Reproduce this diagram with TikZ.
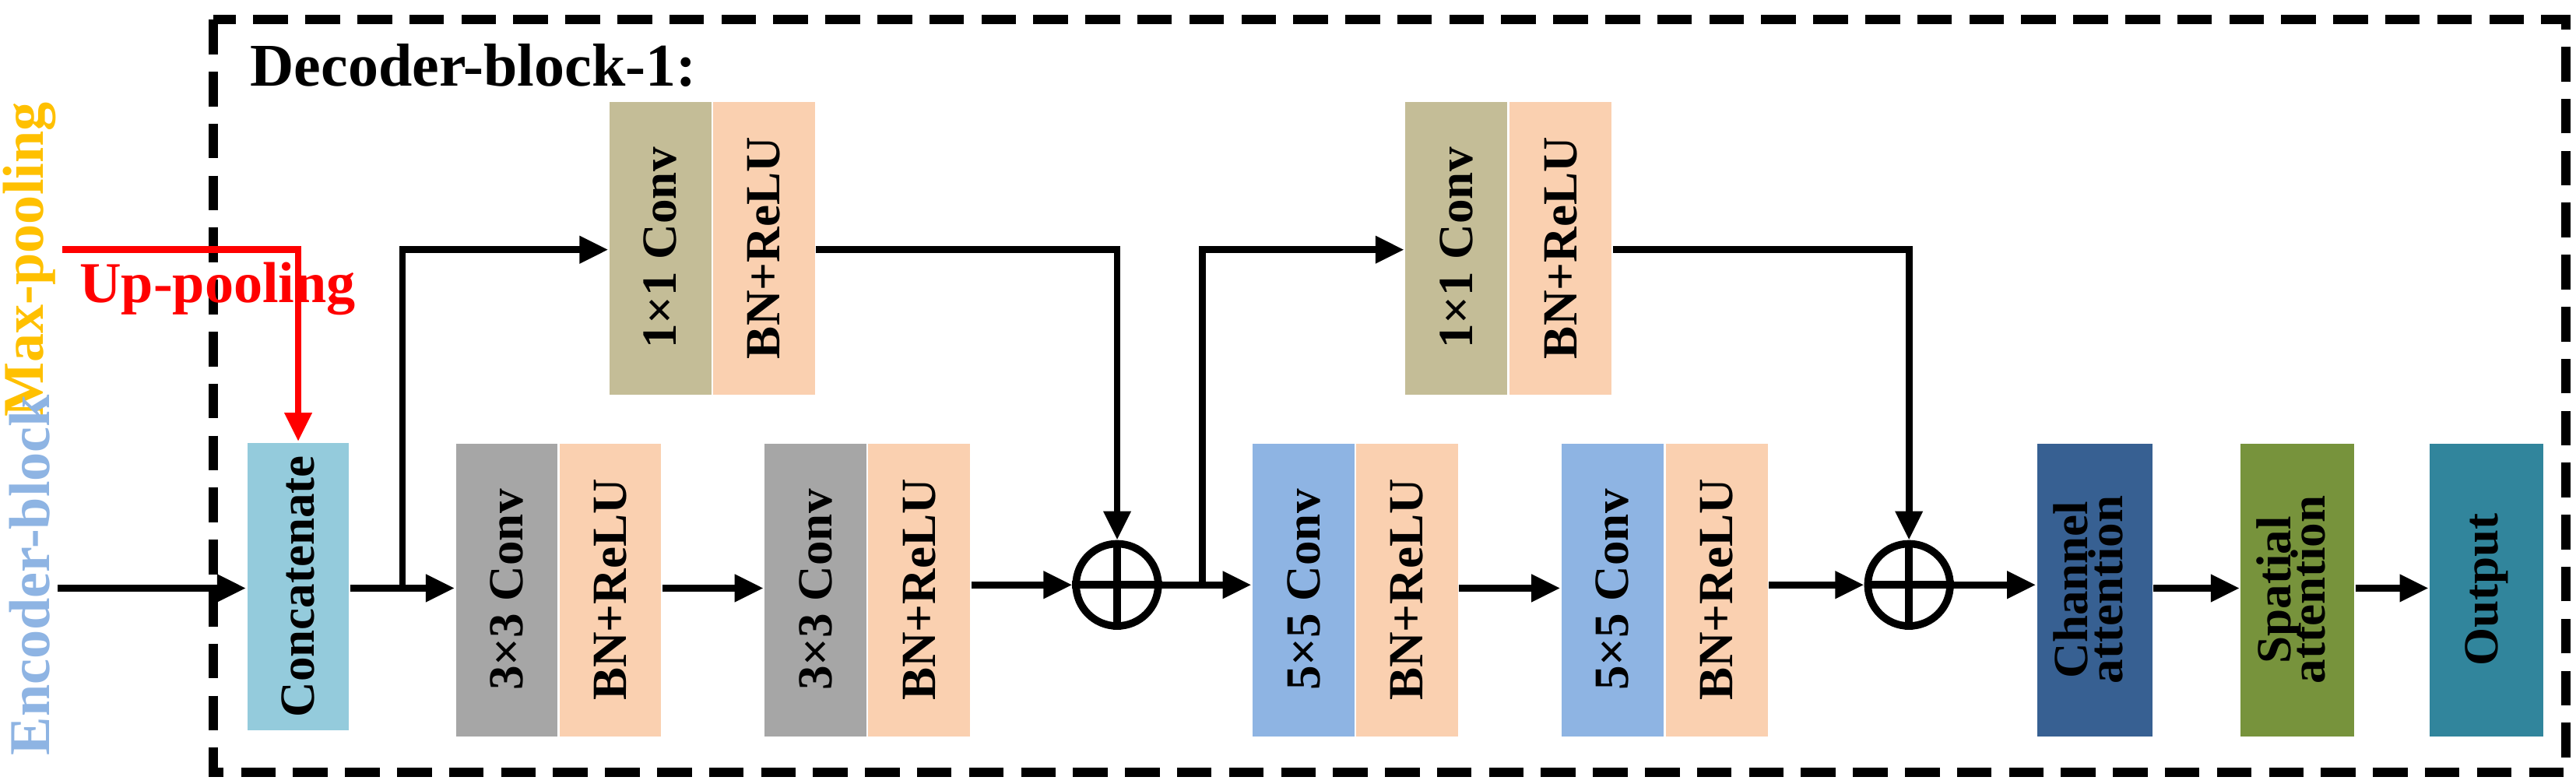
\documentclass[tikz,border=0pt]{standalone}
\usepackage{fontspec}
\setmainfont{Liberation Serif}
\usetikzlibrary{arrows.meta}
\definecolor{cconc}{HTML}{94CBDC}
\definecolor{cone}{HTML}{C4BD97}
\definecolor{cbn}{HTML}{FAD0B0}
\definecolor{cthree}{HTML}{A6A6A6}
\definecolor{cfive}{HTML}{8EB4E3}
\definecolor{cchan}{HTML}{376092}
\definecolor{cspat}{HTML}{77933C}
\definecolor{cout}{HTML}{31859C}
\definecolor{cmax}{HTML}{FFC000}
\definecolor{cenc}{HTML}{8EB4E3}
\begin{document}
\begin{tikzpicture}[x=0.01cm,y=-0.01cm,
  blk/.style={minimum width=0.62cm,minimum height=1.78cm,inner sep=0pt,font=\bfseries\fontsize{8.5}{9}\selectfont,align=center},
  lbl/.style={rotate=90},
  arr/.style={-{Triangle[length=5pt,width=4.5pt]},line width=1.2pt},
  ln/.style={line width=1.2pt},
  sumc/.style={circle,draw,line width=1.3pt,minimum size=0.5cm,inner sep=0pt}]
\useasboundingbox (0,0) rectangle (1568,477);
\draw[dashed,line width=1.6pt,dash pattern=on 6pt off 3pt] (130,12) rectangle (1562,470);
\node[anchor=west,font=\bfseries\fontsize{10.5}{11}\selectfont] (title) at (140,40) {Decoder-block-1:};
\node[rotate=90,text=cmax,font=\bfseries\fontsize{10}{11}\selectfont] (maxp) at (18,158) {Max-pooling};
\node[rotate=90,text=cenc,font=\bfseries\fontsize{10}{11}\selectfont] (encb) at (18,350) {Encoder-block};
% boxes
\node[blk,fill=cconc,minimum height=1.75cm] (conc) at (181.5,357) {\rotatebox{90}{Concatenate}};
\node[blk,fill=cone] (c1a) at (402,151) {\rotatebox{90}{1\texttimes1 Conv}};
\node[blk,fill=cbn] (b1a) at (465,151) {\rotatebox{90}{BN+ReLU}};
\node[blk,fill=cthree] (c3a) at (308.5,359) {\rotatebox{90}{3\texttimes3 Conv}};
\node[blk,fill=cbn] (b3a) at (371.5,359) {\rotatebox{90}{BN+ReLU}};
\node[blk,fill=cthree] (c3b) at (496.5,359) {\rotatebox{90}{3\texttimes3 Conv}};
\node[blk,fill=cbn] (b3b) at (559.5,359) {\rotatebox{90}{BN+ReLU}};
\node[sumc] (s1) at (680,356) {};
\draw[line width=1.3pt] (s1.north)--(s1.south) (s1.west)--(s1.east);
\node[blk,fill=cone] (c1b) at (886.5,151) {\rotatebox{90}{1\texttimes1 Conv}};
\node[blk,fill=cbn] (b1b) at (950,151) {\rotatebox{90}{BN+ReLU}};
\node[blk,fill=cfive] (c5a) at (793.5,359) {\rotatebox{90}{5\texttimes5 Conv}};
\node[blk,fill=cbn] (b5a) at (856.5,359) {\rotatebox{90}{BN+ReLU}};
\node[blk,fill=cfive] (c5b) at (981.5,359) {\rotatebox{90}{5\texttimes5 Conv}};
\node[blk,fill=cbn] (b5b) at (1045,359) {\rotatebox{90}{BN+ReLU}};
\node[sumc] (s2) at (1162,356) {};
\draw[line width=1.3pt] (s2.north)--(s2.south) (s2.west)--(s2.east);
\node[blk,fill=cchan,minimum width=0.70cm] (chan) at (1275,359) {\rotatebox{90}{\begin{tabular}{@{}c@{}}Channel\\[-3pt]attention\end{tabular}}};
\node[blk,fill=cspat,minimum width=0.69cm] (spat) at (1398.5,359) {\rotatebox{90}{\begin{tabular}{@{}c@{}}Spatial\\[-3pt]attention\end{tabular}}};
\node[blk,fill=cout,minimum width=0.69cm] (outb) at (1513.5,359) {\rotatebox{90}{Output}};
% input
\coordinate (in) at (35,358);
\draw[arr] (in) -- (conc.west |- in);
\coordinate (up0) at (38,152);
\draw[arr,red] (up0) -- (conc.north |- up0) -- (conc.north);
\node[anchor=west,text=red,font=\bfseries\fontsize{10}{11}\selectfont] (uptxt) at (36,176) {Up-pooling};
% main path
\coordinate (br1) at (245,358);
\draw[arr] (conc.east |- br1) -- (c3a.west |- br1);
\draw[arr] (br1) -- (245,152) -- (c1a.west |- 0,152);
\draw[arr] (b1a.east |- 0,152) -- (680,152) -- (s1.north);
\draw[arr] (b3a.east |- 0,358) -- (c3b.west |- 0,358);
\draw[arr] (b3b.east |- 0,356) -- (s1.west);
\coordinate (br2) at (732,356);
\draw[arr] (s1.east) -- (c5a.west |- br2);
\draw[arr] (br2) -- (732,152) -- (c1b.west |- 0,152);
\draw[arr] (b1b.east |- 0,152) -- (1162,152) -- (s2.north);
\draw[arr] (b5a.east |- 0,358) -- (c5b.west |- 0,358);
\draw[arr] (b5b.east |- 0,356) -- (s2.west);
\draw[arr] (s2.east) -- (chan.west |- s2);
\draw[arr] (chan.east |- 0,358) -- (spat.west |- 0,358);
\draw[arr] (spat.east |- 0,358) -- (outb.west |- 0,358);
\end{tikzpicture}
\end{document}
